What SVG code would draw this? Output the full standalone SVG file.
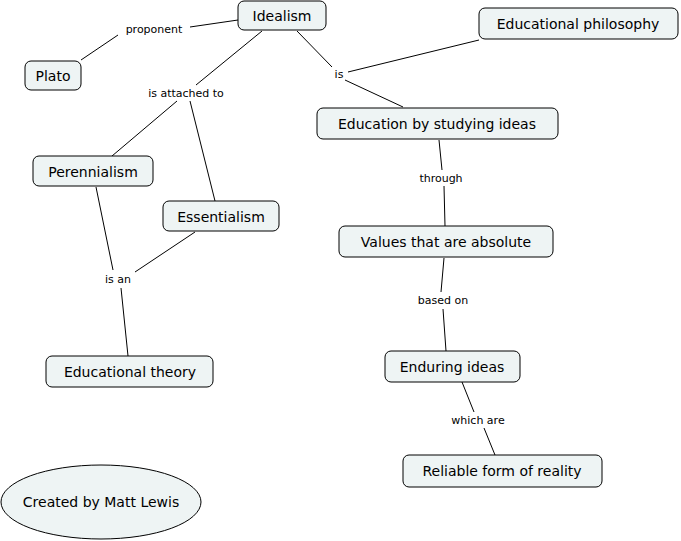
<svg xmlns="http://www.w3.org/2000/svg" width="681" height="541" viewBox="0 0 681 541">
<style>
.n rect,.n ellipse{fill:#eef4f4;stroke:#000;stroke-width:1}
.n text{font-family:"DejaVu Sans",Verdana,sans-serif;font-size:14px;fill:#000;text-anchor:middle}
.l text{font-family:"DejaVu Sans",Verdana,sans-serif;font-size:11px;fill:#000;text-anchor:middle}
#connectors line{stroke:#000;stroke-width:1}
</style>
<rect width="681" height="541" fill="#fff"/>
<g id="connectors">
<line x1="238" y1="20" x2="190" y2="27"/><line x1="118" y1="35" x2="81" y2="60"/>
<line x1="297" y1="31" x2="332" y2="67"/><line x1="479" y1="40" x2="348" y2="72"/><line x1="345" y1="80" x2="403" y2="107"/>
<line x1="262" y1="31" x2="196" y2="85"/><line x1="177" y1="101" x2="112" y2="156"/><line x1="190" y1="101" x2="215" y2="201"/>
<line x1="439" y1="140" x2="442" y2="170"/><line x1="444" y1="186" x2="445" y2="226"/>
<line x1="96" y1="187" x2="113" y2="270"/><line x1="195" y1="232" x2="135" y2="272"/><line x1="121" y1="288" x2="128" y2="356"/>
<line x1="444" y1="258" x2="441" y2="292"/><line x1="443" y1="309" x2="446" y2="351"/>
<line x1="462" y1="382" x2="474" y2="412"/><line x1="484" y1="428" x2="495" y2="455"/>
</g>
<g class="l">
<text x="154" y="33">proponent</text><text x="339" y="78">is</text><text x="186" y="97">is attached to</text>
<text x="441" y="182">through</text><text x="118" y="283">is an</text><text x="443" y="304">based on</text><text x="478" y="424">which are</text>
</g>
<g id="n1" class="n"><rect x="238" y="1" width="88" height="29" rx="6"/><text x="282" y="21">Idealism</text></g>
<g id="n2" class="n"><rect x="25" y="61" width="56" height="29" rx="6"/><text x="53" y="81">Plato</text></g>
<g id="n3" class="n"><rect x="479" y="8" width="199" height="31" rx="6"/><text x="578" y="29">Educational philosophy</text></g>
<g id="n4" class="n"><rect x="317" y="108" width="241" height="31" rx="6"/><text x="437" y="129">Education by studying ideas</text></g>
<g id="n5" class="n"><rect x="33" y="156" width="120" height="30" rx="6"/><text x="93" y="177">Perennialism</text></g>
<g id="n6" class="n"><rect x="163" y="201" width="116" height="30" rx="6"/><text x="221" y="222">Essentialism</text></g>
<g id="n7" class="n"><rect x="339" y="226" width="214" height="31" rx="6"/><text x="446" y="247">Values that are absolute</text></g>
<g id="n8" class="n"><rect x="46" y="356" width="167" height="31" rx="6"/><text x="130" y="377">Educational theory</text></g>
<g id="n9" class="n"><rect x="385" y="351" width="135" height="31" rx="6"/><text x="452" y="372">Enduring ideas</text></g>
<g id="n10" class="n"><rect x="403" y="455" width="199" height="32" rx="6"/><text x="502" y="476">Reliable form of reality</text></g>
<g id="n11" class="n"><ellipse cx="101" cy="502" rx="100" ry="37"/><text x="101" y="507">Created by Matt Lewis</text></g>
</svg>
